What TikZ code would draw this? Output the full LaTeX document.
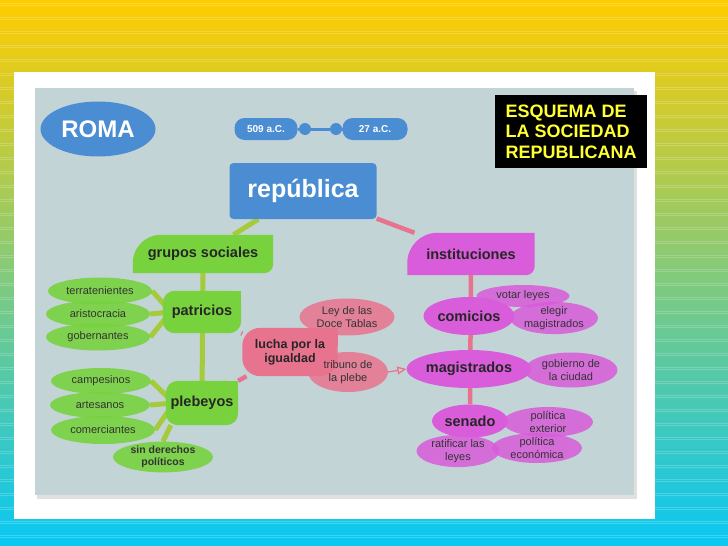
\documentclass[tikz,border=0pt]{standalone}
\usepackage{fontspec}
\setmainfont{Liberation Sans}
\usetikzlibrary{shapes.geometric,arrows.meta}

\definecolor{romablue}{HTML}{4A8DD2}
\definecolor{board}{HTML}{C3D4D7}
\definecolor{leafgreen}{HTML}{78D23E}
\definecolor{linkgreen}{HTML}{A6CB3A}
\definecolor{rosa}{HTML}{E8738E}
\definecolor{orchid}{HTML}{D95CDA}
\definecolor{sunyellow}{HTML}{FFCC00}
\definecolor{midgreen}{HTML}{9CC45E}
\definecolor{skycyan}{HTML}{08C8F4}
\definecolor{esqyellow}{HTML}{FFFF33}

\pgfdeclarelayer{paper}
\pgfdeclarelayer{links}
\pgfdeclarelayer{shapes}
\pgfsetlayers{paper,links,shapes,main}

\tikzset{
  title/.style = {ellipse, fill=romablue, text=white, inner sep=0pt,
    font=\bfseries\fontsize{24}{24}\selectfont,
    minimum width=115pt, minimum height=55pt},
  year/.style = {rectangle, rounded corners=10pt, fill=romablue, text=white,
    font=\bfseries\fontsize{10}{10}\selectfont,
    minimum height=22pt, inner sep=0pt},
  timedot/.style = {circle, fill=romablue, minimum size=12pt, inner sep=0pt},
  headbox/.style = {rectangle, rounded corners=4pt, fill=romablue, text=white,
    font=\bfseries\fontsize{25}{25}\selectfont,
    minimum width=147pt, minimum height=56pt},
  esq/.style = {rectangle, fill=black, text=esqyellow, align=left,
    font=\bfseries\fontsize{18}{20.5}\selectfont,
    minimum width=152pt, minimum height=73pt},
  bigword/.style = {rectangle, inner sep=0pt, text=black!85,
    font=\bfseries\fontsize{14.5}{15}\selectfont},
  bub/.style = {ellipse, inner sep=0pt, align=center, text=black!80,
    font=\fontsize{11}{12.5}\selectfont},
  gbub/.style = {bub, fill=leafgreen, fill opacity=0.9, text opacity=1},
  pbub/.style = {bub, fill=rosa, fill opacity=0.85, text opacity=1},
  mbub/.style = {bub, fill=orchid, fill opacity=0.85, text opacity=1},
  glink/.style = {linkgreen, line width=5pt},
  plink/.style = {rosa, line width=4.5pt},
}

% leaf: round top left and bottom right, sharp top right and bottom left
\newcommand{\leafshape}[4]{%
  \begin{pgfonlayer}{shapes}
    \fill[#2] (#1.south west) -- ([yshift=-#3]#1.north west)
      arc[start angle=180, end angle=90, radius=#3] -- (#1.north east)
      -- ([yshift=#4]#1.south east)
      arc[start angle=0, end angle=-90, radius=#4] -- cycle;
  \end{pgfonlayer}}
% box: only the top right corner sharp
\newcommand{\boxshape}[3]{%
  \begin{pgfonlayer}{shapes}
    \fill[#2, rounded corners=#3] (#1.south west) rectangle (#1.north east);
    \fill[#2] (#1.north east) rectangle ([xshift=-#3, yshift=-#3]#1.north east);
  \end{pgfonlayer}}

\begin{document}
\begin{tikzpicture}[x=1pt, y=-1pt]
\useasboundingbox (0,0) rectangle (728,546);

% slide background
\begin{pgfonlayer}{paper}
  \shade[top color=sunyellow, middle color=midgreen, bottom color=skycyan]
    (0,0) rectangle (728,546);
  \foreach \y in {3,17,...,546} {
    \draw[white, opacity=0.2, line width=0.6pt] (0,\y) -- (728,\y);
    \draw[white, opacity=0.2, line width=0.6pt] (0,\y+2.5) -- (728,\y+2.5);
  }
  \fill[white] (14,72) rectangle (655,519);
  \fill[black, opacity=0.12] (37,91) rectangle (637,499);
  \fill[board] (35,88) rectangle (634,495);
\end{pgfonlayer}

% title and time line
\node[title] (roma) at (98,129) {ROMA};
\node[year, minimum width=63pt] (y509) at (266,129) {509 a.C.};
\node[timedot] (d1) at (305,129) {};
\node[timedot] (d2) at (336,129) {};
\node[year, minimum width=65pt] (y27) at (375,129) {27 a.C.};
\node[headbox] (rep) at (303,191) {república};
\node[esq, anchor=north west] (esq) at (495,95) {ESQUEMA DE\\LA SOCIEDAD\\REPUBLICANA};

% social groups
\node[bigword, minimum width=140pt, minimum height=38pt] (gs) at (203,254) {grupos sociales};
\leafshape{gs}{leafgreen}{28pt}{9pt}
\node[bigword, minimum width=78pt, minimum height=42pt] (pat) at (202,312) {patricios};
\boxshape{pat}{leafgreen}{12pt}
\node[bigword, minimum width=72pt, minimum height=44pt] (pleb) at (202,403) {plebeyos};
\boxshape{pleb}{leafgreen}{12pt}

\node[gbub, minimum width=104pt, minimum height=27pt] (terr) at (100,291) {terratenientes};
\node[gbub, minimum width=104pt, minimum height=27pt] (aris) at (98,314) {aristocracia};
\node[gbub, minimum width=104pt, minimum height=27pt] (gob) at (98,337) {gobernantes};

\node[gbub, minimum width=100pt, minimum height=26pt] (camp) at (101,381) {campesinos};
\node[gbub, minimum width=100pt, minimum height=26pt] (art) at (100,405) {artesanos};
\node[gbub, minimum width=104pt, minimum height=28pt] (com) at (103,430) {comerciantes};
\node[gbub, font=\bfseries\fontsize{10.5}{12}\selectfont,
  minimum width=100pt, minimum height=30pt] (sinder) at (163,457) {sin derechos\\políticos};

% struggle
\node[bigword, font=\bfseries\fontsize{12.5}{14}\selectfont, align=center,
  minimum width=95pt, minimum height=48pt] (lucha) at (290,352) {lucha por la\\igualdad};
\boxshape{lucha}{rosa}{18pt}
\node[pbub, minimum width=95pt, minimum height=37pt] (ley) at (347,317) {Ley de las\\Doce Tablas};
\node[pbub, minimum width=80pt, minimum height=40pt] (trib) at (348,372) {tribuno de\\la plebe};

% institutions
\node[bigword, minimum width=127pt, minimum height=42pt] (inst) at (471,254) {instituciones};
\leafshape{inst}{orchid}{30pt}{9pt}
\node[bub, fill=orchid, font=\bfseries\fontsize{14.5}{15}\selectfont, text=black!85,
  minimum width=91pt, minimum height=38pt] (comi) at (469,316) {comicios};
\node[mbub, minimum width=93pt, minimum height=22pt] (vot) at (523,296) {votar leyes};
\node[mbub, minimum width=88pt, minimum height=32pt] (eleg) at (554,318) {elegir\\magistrados};
\node[bub, fill=orchid, font=\bfseries\fontsize{14.5}{15}\selectfont, text=black!85,
  minimum width=125pt, minimum height=38pt] (mag) at (469,369) {magistrados};
\node[mbub, minimum width=93pt, minimum height=35pt] (gobc) at (571,370) {gobierno de\\la ciudad};
\node[bub, fill=orchid, font=\bfseries\fontsize{14.5}{15}\selectfont, text=black!85,
  minimum width=76pt, minimum height=33pt] (sen) at (470,421) {senado};
\node[mbub, minimum width=90pt, minimum height=30pt] (polext) at (548,422) {política\\exterior};
\node[mbub, minimum width=83pt, minimum height=28pt] (rat) at (458,451) {ratificar las\\leyes};
\node[mbub, minimum width=90pt, minimum height=30pt] (polec) at (537,448) {política\\económica};

% connectors
\begin{pgfonlayer}{links}
  \draw[romablue, line width=3pt] (y509) -- (d1) -- (d2) -- (y27);
  \draw[glink] (rep) -- (gs);
  \draw[plink] (rep) -- (inst);
  \draw[glink] (gs) -- (pleb);
  \draw[glink] (terr.east) -- ([xshift=8pt]pat.west);
  \draw[glink] (aris.east) -- ([xshift=8pt]pat.west);
  \draw[glink] (gob.east) -- ([xshift=8pt]pat.west);
  \draw[glink] (camp.east) -- ([xshift=8pt]pleb.west);
  \draw[glink] (art.east) -- ([xshift=8pt]pleb.west);
  \draw[glink] (com.east) -- ([xshift=8pt]pleb.west);
  \draw[glink] ([xshift=5pt]pleb.south west) -- (sinder.north);
  \draw[plink] (pat.south east) -- (lucha);
  \draw[plink] (pleb.north east) -- (lucha);
  \draw[plink] (inst) -- (sen);
  \draw[rosa, line width=1.3pt, -{Triangle[open, length=9pt, width=8pt]}] (trib.east) -- (mag.west);
\end{pgfonlayer}

\end{tikzpicture}
\end{document}
